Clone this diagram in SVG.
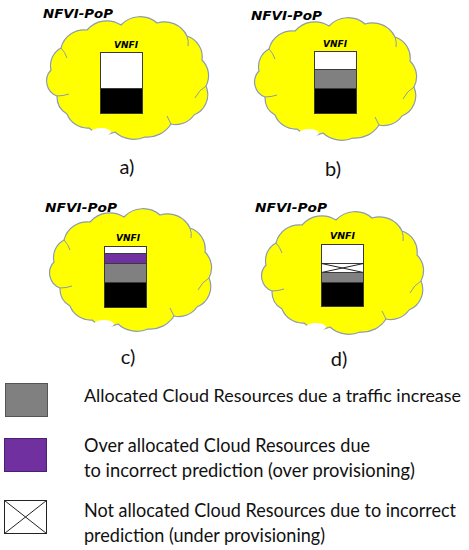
<svg xmlns="http://www.w3.org/2000/svg" width="469" height="550" viewBox="0 0 469 550">
<style>
.cloud{fill:#ffff00;stroke:#8c9bb0;stroke-width:1.2}
.inner{fill:none;stroke:#8c9bb0;stroke-width:1}
.pop{font-family:"DejaVu Sans",sans-serif;font-weight:bold;font-style:italic;font-size:12.5px;fill:#000}
.vnfi{font-family:"DejaVu Sans",sans-serif;font-weight:bold;font-style:italic;font-size:8.5px;fill:#000}
.lbl{font-family:Lato,"Open Sans",sans-serif;font-size:20px;fill:#111}
.leg{font-family:Lato,"Open Sans",sans-serif;font-size:18.5px;fill:#111}
.seg{stroke:#3a3a3a;stroke-width:1}
.w{fill:#ffffff}.k{fill:#000000}.g{fill:#808080}.p{fill:#7030a0}
.x{fill:none;stroke:#222;stroke-width:1}
</style>
<defs>
<g id="cl">
<path class="cloud" d="M2,50 A20,20 0 0 1 12,28 A24,24 0 0 1 38,10 A26,26 0 0 1 72,5 A26,26 0 0 1 108,3 A25,25 0 0 1 138,16 A22,22 0 0 1 153,40 A22,22 0 0 1 157,66 A22,22 0 0 1 145,95 A22,22 0 0 1 122,104 A28,28 0 0 1 96,117 A28,28 0 0 1 66,112 A24,24 0 0 1 40,108 A22,22 0 0 1 18,94 A20,20 0 0 1 8,76 A16,16 0 0 1 2,50 Z"/>
<path class="inner" d="M12,28 Q16,32 18,38 M138,16 Q140,22 139,26 M157,66 Q150,70 146,78 M122,104 Q120,100 118,96 M8,76 Q14,76 20,74"/>
<ellipse cx="52" cy="112" rx="10" ry="4" fill="#ffffff"/>
</g>
</defs>

<g id="panel-a">
<use href="#cl" x="49" y="20"/>
<text class="pop" x="43" y="18" textLength="70" lengthAdjust="spacingAndGlyphs">NFVI-PoP</text>
<text class="vnfi" x="114" y="48" textLength="24" lengthAdjust="spacingAndGlyphs">VNFI</text>
<rect class="seg w" x="100.5" y="52.5" width="42" height="36"/>
<rect class="seg k" x="100.5" y="88.5" width="42" height="25"/>
<text class="lbl" x="127" y="174" text-anchor="middle">a)</text>
</g>

<g id="panel-b">
<use href="#cl" x="257" y="21"/>
<text class="pop" x="251" y="20" textLength="71" lengthAdjust="spacingAndGlyphs">NFVI-PoP</text>
<text class="vnfi" x="323" y="47" textLength="24" lengthAdjust="spacingAndGlyphs">VNFI</text>
<rect class="seg w" x="314.5" y="51.5" width="42" height="18"/>
<rect class="seg g" x="314.5" y="69.5" width="42" height="19"/>
<rect class="seg k" x="314.5" y="88.5" width="42" height="25"/>
<text class="lbl" x="333" y="176" text-anchor="middle">b)</text>
</g>

<g id="panel-c">
<use href="#cl" x="52" y="212"/>
<text class="pop" x="45" y="212" textLength="72" lengthAdjust="spacingAndGlyphs">NFVI-PoP</text>
<text class="vnfi" x="116" y="241" textLength="24" lengthAdjust="spacingAndGlyphs">VNFI</text>
<rect class="seg w" x="104.5" y="246.5" width="42" height="7"/>
<rect class="seg p" x="104.5" y="253.5" width="42" height="10"/>
<rect class="seg g" x="104.5" y="263.5" width="42" height="19"/>
<rect class="seg k" x="104.5" y="282.5" width="42" height="25"/>
<text class="lbl" x="128" y="364" text-anchor="middle">c)</text>
</g>

<g id="panel-d">
<use href="#cl" x="264" y="215"/>
<text class="pop" x="255" y="212" textLength="72" lengthAdjust="spacingAndGlyphs">NFVI-PoP</text>
<text class="vnfi" x="330" y="239" textLength="25" lengthAdjust="spacingAndGlyphs">VNFI</text>
<rect class="seg w" x="321.5" y="244.5" width="42" height="19"/>
<rect class="seg w" x="321.5" y="263.5" width="42" height="9"/>
<path class="x" d="M321.5,263.5 L363.5,272.5 M321.5,272.5 L363.5,263.5"/>
<rect class="seg g" x="321.5" y="272.5" width="42" height="10"/>
<rect class="seg k" x="321.5" y="282.5" width="42" height="24"/>
<text class="lbl" x="339" y="366" text-anchor="middle">d)</text>
</g>

<g id="legend-gray">
<rect x="5.5" y="383.5" width="42" height="33" fill="#808080" stroke="#555" stroke-width="1"/>
<text class="leg" x="84" y="402" style="font-size:17.5px" textLength="377" lengthAdjust="spacingAndGlyphs">Allocated Cloud Resources due a traffic increase</text>
</g>
<g id="legend-purple">
<rect x="4.5" y="438.5" width="42" height="33" fill="#7030a0" stroke="#4a2070" stroke-width="1"/>
<text class="leg" x="84" y="452" textLength="286" lengthAdjust="spacingAndGlyphs">Over allocated Cloud Resources due</text>
<text class="leg" x="84" y="477" textLength="331" lengthAdjust="spacingAndGlyphs">to incorrect prediction (over provisioning)</text>
</g>
<g id="legend-cross">
<rect x="4.5" y="500.5" width="42" height="33" fill="#ffffff" stroke="#222" stroke-width="1"/>
<path d="M4.5,500.5 L46.5,533.5 M4.5,533.5 L46.5,500.5" fill="none" stroke="#222" stroke-width="1"/>
<text class="leg" x="84" y="517" textLength="372" lengthAdjust="spacingAndGlyphs">Not allocated Cloud Resources due to incorrect</text>
<text class="leg" x="84" y="542" textLength="241" lengthAdjust="spacingAndGlyphs">prediction (under provisioning)</text>
</g>
</svg>
